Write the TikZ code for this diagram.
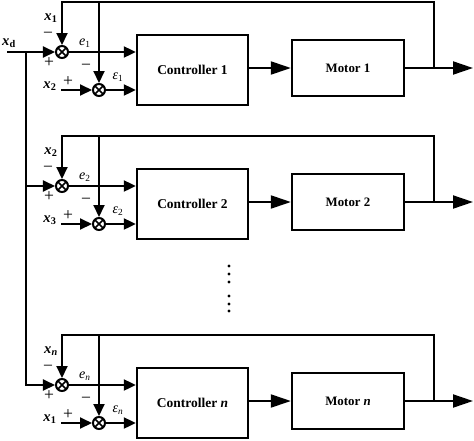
\documentclass[tikz,border=0pt]{standalone}
\usepackage{fontspec}
\setmainfont{Liberation Serif}
\usepackage{tikz}
\usetikzlibrary{arrows.meta}

\begin{document}
\begin{tikzpicture}[x=0.03cm,y=-0.03cm,line width=0.06cm,
   box/.style={rectangle,draw,line width=0.07cm,minimum width=3.33cm,
    minimum height=2.1cm,inner sep=0pt,font=\fontsize{11.5}{13}\selectfont\bfseries},
   mbox/.style={box,minimum width=3.36cm,minimum height=1.68cm,
    font=\fontsize{11}{13}\selectfont\bfseries},
   sumj/.style={circle,draw,minimum size=0.36cm,inner sep=0pt,
    path picture={\draw[line width=0.05cm]
      (path picture bounding box.north west) -- (path picture bounding box.south east)
      (path picture bounding box.north east) -- (path picture bounding box.south west);}},
   lab/.style={inner sep=0pt,font=\fontsize{12}{14}\selectfont},
   xlab/.style={lab,font=\fontsize{12.5}{14}\selectfont\bfseries\itshape},
   sgn/.style={inner sep=0pt,font=\fontsize{15}{17}\selectfont},
   arr/.style={-{Triangle[length=0.36cm,width=0.33cm]}},
   barr/.style={-{Triangle[length=0.6cm,width=0.39cm]}}
    ]
  \useasboundingbox (0,0) rectangle (474,440);

  % -- one row per motor
  \foreach \r/\yc/\k/\a/\b in {1/70/1/1/2, 2/204/2/2/3, n/403/\textit{n}/\textit{n}/1}{
    \node[sumj] at (62,\yc-18) (ja\r) {};
    \node[sumj] at (99,\yc+20) (jb\r) {};
    \node[box] at (192.5,\yc) (ctrl\r) {Controller \k};
    \node[mbox] at (348,\yc-2) (mot\r) {Motor \k};
    \coordinate (out\r) at (473,\yc-2);
    \coordinate (tap\r) at (434,\yc-2);
    \coordinate (top\r) at (434,\yc-68);
    \coordinate (inb\r) at (61,\yc+20);

    % -- labels
    \node[xlab] at (51,\yc-52) (lxa\r) {x\textsubscript{\upshape\a}};
    \node[sgn] at (48,\yc-35) (lma\r) {−};
    \node[sgn] at (49,\yc-7) (lpa\r) {+};
    \node[lab] at (85,\yc-27) (le\r) {\itshape e\textsubscript{\upshape\k}};
    \node[sgn] at (86,\yc-3) (lmb\r) {−};
    \node[xlab] at (50,\yc+16) (lxb\r) {x\textsubscript{\upshape\b}};
    \node[sgn] at (68,\yc+12) (lpb\r) {+};
    \node[lab] at (118,\yc+7) (lep\r) {\itshape ε\textsubscript{\upshape\k}};

    % -- connectors
    \draw[arr] (ja\r) -- (ja\r -| ctrl\r.west);
    \draw[arr] (jb\r) -- (jb\r -| ctrl\r.west);
    \draw[arr] (inb\r) -- (jb\r);
    \draw[barr] (ctrl\r.east |- mot\r) -- (mot\r.west);
    \draw[barr] (mot\r.east) -- (out\r);
    \draw[arr] (tap\r) -- (top\r) -| (ja\r);
    \draw[arr] (top\r -| jb\r) -- (jb\r);
  }

  % -- reference input
  \coordinate (xd) at (7,52);
  \coordinate (trunk) at (26,52);
  \node[xlab] at (9,43) (lxd) {x\textsubscript{\upshape d}};
  \draw[arr] (xd) -- (ja1);
  \draw[arr] (trunk) |- (jan);
  \draw[arr] (trunk |- ja2) -- (ja2);

  % -- dots
  \foreach \d in {266,274,282,296,304,311}
    \fill (229,\d) circle (0.05cm);
\end{tikzpicture}
\end{document}
